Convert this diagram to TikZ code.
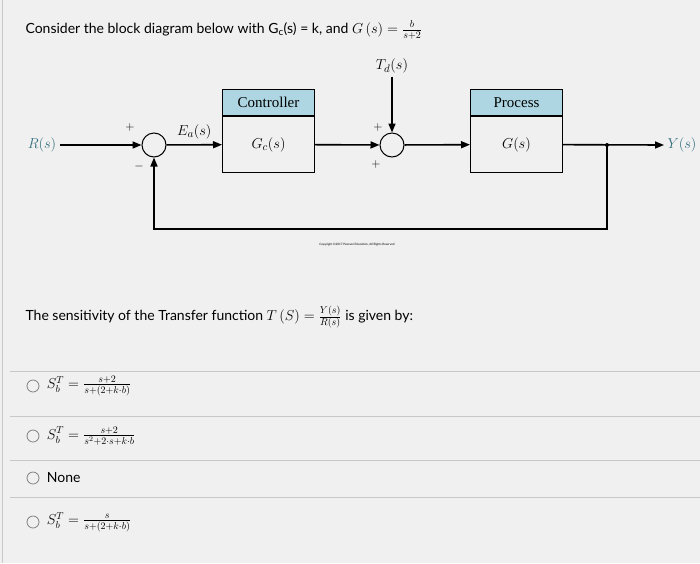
\documentclass[tikz,border=0pt]{standalone}
\usepackage{fontspec}
\setmainfont{Lato}
\newfontfamily\serifdiag{Liberation Serif}
\usepackage{amsmath}
\usetikzlibrary{arrows.meta,positioning}
\definecolor{hdrblue}{RGB}{173,214,226}
\definecolor{sigteal}{RGB}{50,110,125}
\definecolor{pagegray}{RGB}{240,240,240}
\definecolor{rulegray}{RGB}{200,200,200}
\tikzset{
  block/.style={draw,line width=1pt,minimum width=92pt,minimum height=56pt,inner sep=0pt},
  header/.style={draw,line width=1pt,fill=hdrblue,minimum width=92pt,minimum height=26pt,inner sep=0pt,font=\serifdiag\fontsize{15}{17}\selectfont},
  sumpt/.style={circle,draw,line width=1pt,minimum size=24pt,inner sep=0pt},
  sig/.style={line width=1.6pt,-{Triangle[length=9pt,width=7pt]}},
  lbl/.style={font=\fontsize{15}{17}\selectfont},
  sgn/.style={font=\fontsize{13}{15}\selectfont},
  txt/.style={font=\fontsize{14}{17}\selectfont,anchor=west},
  opt/.style={circle,draw=gray,line width=0.8pt,minimum size=12pt,inner sep=0pt}
}
\begin{document}
\begin{tikzpicture}[x=1pt,y=-1pt]
\useasboundingbox[fill=pagegray] (0,0) rectangle (700,563);
\draw[rulegray,line width=1pt] (2,0) -- (2,563);

% question
\node[txt] (title) at (22,30) {Consider the block diagram below with G$_{\text c}$(s) = k, and $G\left(s\right)=\frac{b}{s+2}$};

% block diagram
\node[lbl,text=sigteal] (R) at (42,145) {$R(s)$};
\node[sumpt] (sum1) at (154,145) {};
\node[block,anchor=north west] (ctrl) at (222,116) {\fontsize{15}{17}\selectfont$G_c(s)$};
\node[header,anchor=south] (ctrlh) at (ctrl.north) {Controller};
\node[sumpt] (sum2) at (392,145) {};
\node[block,anchor=north west] (proc) at (470,116) {\fontsize{15}{17}\selectfont$G(s)$};
\node[header,anchor=south] (proch) at (proc.north) {Process};
\node[lbl] (Td) at (392,66) {$T_d(s)$};
\coordinate (tap) at (607,145);
\coordinate (out) at (664,145);
\node[lbl,text=sigteal,anchor=west] (Y) at (out) {$Y(s)$};
\coordinate (fbr) at (607,229);
\coordinate (fbl) at (154,229);

\draw[sig] (R) -- (sum1);
\draw[sig] (sum1) -- node[lbl,above=2pt] {$E_a(s)$} (ctrl);
\draw[sig] (ctrl) -- (sum2);
\draw[sig] (Td) -- (sum2);
\draw[sig] (sum2) -- (proc);
\draw[sig] (proc) -- (out);
\draw[sig] (tap) -- (fbr) -- (fbl) -- (sum1);
\fill (tap) circle (2pt);
\node[sgn] at (130,127) {$+$};
\node[sgn] at (139,166) {$-$};
\node[sgn] at (378,127) {$+$};
\node[sgn] at (376,164) {$+$};
\node[font=\fontsize{3}{4}\selectfont] (copy) at (357,245) {Copyright \copyright2017 Pearson Education, All Rights Reserved};

% question text
\node[txt] (sens) at (22,317) {The sensitivity of the Transfer function $T\left(S\right)=\frac{Y(s)}{R(s)}$ is given by:};

% options
\foreach \y in {371,416,460,497} \draw[rulegray,line width=0.8pt] (10,\y) -- (700,\y);
\node[opt] (o1) at (33,386) {};
\node[opt] (o2) at (33,436) {};
\node[opt] (o3) at (33,478) {};
\node[opt] (o4) at (33,522) {};
\node[txt,right=4pt of o1] {$S_b^T=\frac{s+2}{s+(2+k\cdot b)}$};
\node[txt,right=4pt of o2] {$S_b^T=\frac{s+2}{s^2+2\cdot s+k\cdot b}$};
\node[txt,right=4pt of o3] {None};
\node[txt,right=4pt of o4] {$S_b^T=\frac{s}{s+(2+k\cdot b)}$};
\end{tikzpicture}
\end{document}
